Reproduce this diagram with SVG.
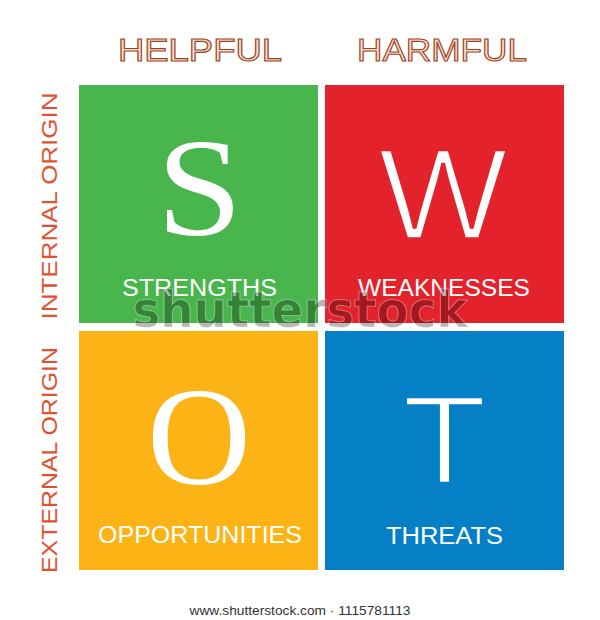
<svg xmlns="http://www.w3.org/2000/svg" width="600" height="620" viewBox="0 0 600 620">
<style>
.head{font-family:"Liberation Sans",Arial,sans-serif;font-size:32px;fill:#f6e0d2;stroke:#9e4322;stroke-width:1.1;text-anchor:middle}
.side{font-family:"Liberation Sans",Arial,sans-serif;font-size:22px;fill:#e2512f;text-anchor:middle}
.big-serif{font-family:"Liberation Serif","Times New Roman",serif;font-size:139px;fill:#ffffff;text-anchor:middle}
.big-sans{font-family:"Liberation Sans",Arial,sans-serif;font-weight:normal;fill:#ffffff;text-anchor:middle;stroke-width:3.5}
.lbl{font-family:"Liberation Sans",Arial,sans-serif;font-size:23px;fill:#ffffff;text-anchor:middle}
</style>
<rect width="600" height="620" fill="#ffffff"/>
<text class="head" x="200" y="61" textLength="164" lengthAdjust="spacingAndGlyphs">HELPFUL</text>
<text class="head" x="442" y="61" textLength="170" lengthAdjust="spacingAndGlyphs">HARMFUL</text>
<text class="side" transform="translate(57,206) rotate(-90)" textLength="227" lengthAdjust="spacingAndGlyphs">INTERNAL ORIGIN</text>
<text class="side" transform="translate(57,460) rotate(-90)" textLength="226" lengthAdjust="spacingAndGlyphs">EXTERNAL ORIGIN</text>
<g id="strengths">
<rect x="79" y="85" width="239" height="238" fill="#48b64c"/>
<text class="big-serif" x="199.5" y="235" textLength="86" lengthAdjust="spacingAndGlyphs">S</text>
<text class="lbl" x="199.5" y="296" textLength="155" lengthAdjust="spacingAndGlyphs">STRENGTHS</text>
</g>
<g id="weaknesses">
<rect x="325" y="85" width="239" height="238" fill="#e3222b"/>
<text class="big-sans" x="443" y="239" font-size="130" textLength="130" lengthAdjust="spacingAndGlyphs" stroke="#e3222b" paint-order="normal">W</text>
<text class="lbl" x="444" y="296" textLength="172" lengthAdjust="spacingAndGlyphs">WEAKNESSES</text>
</g>
<g id="opportunities">
<rect x="79" y="331" width="239" height="239" fill="#fbb316"/>
<text class="big-serif" x="199" y="484" font-size="141" textLength="104" lengthAdjust="spacingAndGlyphs">O</text>
<text class="lbl" x="200" y="543" textLength="204" lengthAdjust="spacingAndGlyphs">OPPORTUNITIES</text>
</g>
<g id="threats">
<rect x="325" y="331" width="239" height="239" fill="#0580c6"/>
<text class="big-sans" x="444.5" y="483" font-size="127" textLength="85" lengthAdjust="spacingAndGlyphs" stroke="#0580c6">T</text>
<text class="lbl" x="444.5" y="544" textLength="117" lengthAdjust="spacingAndGlyphs">THREATS</text>
</g>
<g id="connectors"></g>
<text x="300" y="327" font-family="'DejaVu Sans Condensed','DejaVu Sans',sans-serif" font-weight="bold" font-size="50" fill="#000000" fill-opacity="0.28" stroke="#ffffff" stroke-opacity="0.35" stroke-width="1" text-anchor="middle" textLength="335" lengthAdjust="spacingAndGlyphs">shutterstock</text>
<text x="300" y="615" font-family="'Liberation Sans',Arial,sans-serif" font-size="13.5" fill="#333333" text-anchor="middle" textLength="221" lengthAdjust="spacingAndGlyphs">www.shutterstock.com · 1115781113</text>
</svg>
